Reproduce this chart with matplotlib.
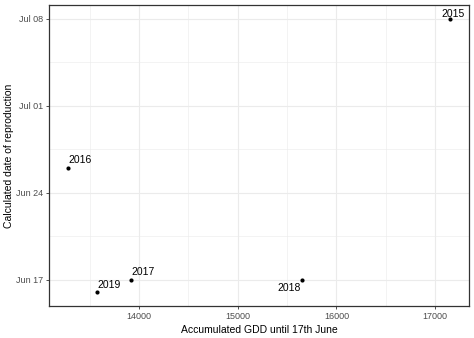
import matplotlib
matplotlib.use("Agg")
import matplotlib.pyplot as plt
import matplotlib.dates as mdates
import matplotlib.ticker as ticker
import pandas as pd

# ── Data ────────────────────────────────────────────────────────────────────
years = ["2015", "2016", "2017", "2018", "2019"]
gdd = [17150, 13280, 13920, 15655, 13575]
repro_dates = ["2015-07-08", "2015-06-26", "2015-06-17", "2015-06-17", "2015-06-16"]

# label offsets (points) and alignment, like ggplot's nudged text
label_offsets = {
    "2015": ((2, 0), "center", "bottom"),
    "2016": ((0, 2), "left", "bottom"),
    "2017": ((0, 2), "left", "bottom"),
    "2018": ((-1, -2), "right", "top"),
    "2019": ((0, 2), "left", "bottom"),
}

GRID_CLR = "#EBEBEB"
TICK_CLR = "#4D4D4D"
BORDER = "#333333"

plt.rcParams["font.family"] = ["Liberation Sans", "DejaVu Sans"]

dates = mdates.date2num(pd.to_datetime(repro_dates))

fig = plt.figure(figsize=(4.74, 3.38), dpi=100)
ax = fig.add_axes([49 / 474, 1 - 306 / 338, 420 / 474, 301 / 338])

ax.scatter(gdd, dates, s=9, color="black", zorder=3, linewidths=0)

for yr, x, y in zip(years, gdd, dates):
    off, ha, va = label_offsets[yr]
    ax.annotate(yr, xy=(x, y), xytext=off, textcoords="offset points",
                ha=ha, va=va, fontsize=7.5, color="black", zorder=4)

# ── Limits with ggplot-style 5% expansion ───────────────────────────────────
xr = max(gdd) - min(gdd)
ax.set_xlim(min(gdd) - 0.05 * xr, max(gdd) + 0.05 * xr)
yr_ = dates.max() - dates.min()
ax.set_ylim(dates.min() - 0.05 * yr_, dates.max() + 0.05 * yr_)

ax.xaxis.set_major_locator(ticker.MultipleLocator(1000))
ax.xaxis.set_minor_locator(ticker.MultipleLocator(500))
ytick_pos = mdates.date2num(pd.to_datetime(["2015-06-17", "2015-06-24",
                                            "2015-07-01", "2015-07-08"]))
ax.set_yticks(ytick_pos)
ax.set_yticks((ytick_pos[:-1] + ytick_pos[1:]) / 2, minor=True)
ax.yaxis.set_major_formatter(mdates.DateFormatter("%b %d"))

ax.grid(True, which="major", color=GRID_CLR, linewidth=0.8)
ax.grid(True, which="minor", color=GRID_CLR, linewidth=0.4)
ax.set_axisbelow(True)

ax.tick_params(which="major", length=2.5, width=0.6, color=BORDER,
               labelsize=6.5, labelcolor=TICK_CLR, pad=2)
ax.tick_params(which="minor", length=0)
for sp in ax.spines.values():
    sp.set_color(BORDER)
    sp.set_linewidth(0.9)

ax.set_xlabel("Accumulated GDD until 17th June", fontsize=7.5, labelpad=3)
ax.set_ylabel("Calculated date of reproduction", fontsize=7.5, labelpad=1)

fig.savefig("out.png", dpi=100)
